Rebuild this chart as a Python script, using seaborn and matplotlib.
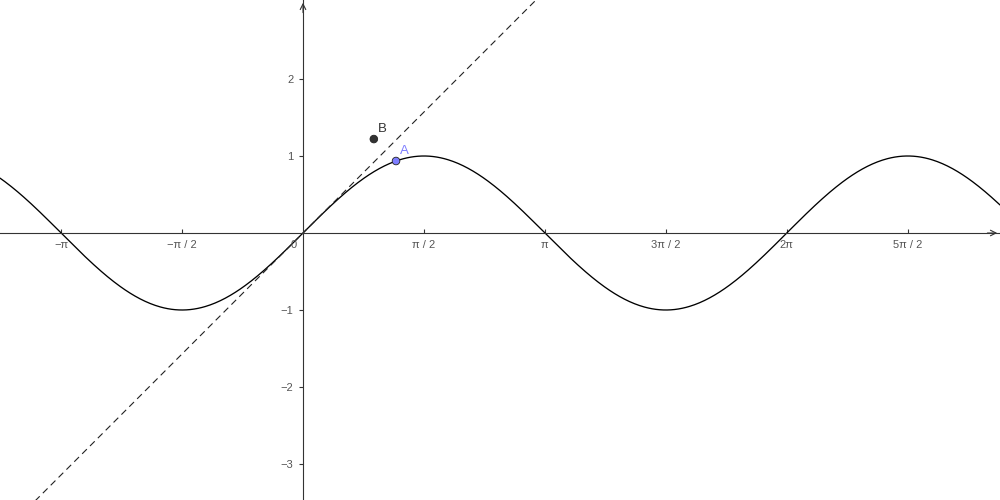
import numpy as np
import pandas as pd
import matplotlib
matplotlib.use('Agg')
import matplotlib.pyplot as plt
import seaborn as sns

# view window (GeoGebra graphics view, 77 px per unit)
x_min, x_max = -303/77, 697/77
y_min, y_max = -267/77, 233/77

# curve f(x)=sin(x) and its tangent at the origin y=x
x_curve = np.linspace(x_min, x_max, 800)
curve = pd.DataFrame({'x': x_curve, 'y': np.sin(x_curve)})
tangent = pd.DataFrame({'x': [x_min, x_max], 'y': [x_min, x_max]})

# points
pt_names = ['A', 'B']
pt_x = [1.208, 0.92]
pt_y = [np.sin(1.208), 1.22]
pt_colors = ['#7d7dff', '#333333']

xtick_vals = [-np.pi, -np.pi/2, np.pi/2, np.pi, 3*np.pi/2, 2*np.pi, 5*np.pi/2]
xtick_labels = ['\u2212\u03c0', '\u2212\u03c0 / 2', '\u03c0 / 2', '\u03c0', '3\u03c0 / 2', '2\u03c0', '5\u03c0 / 2']
ytick_vals = [-3, -2, -1, 1, 2]
ytick_labels = ['\u22123', '\u22122', '\u22121', '1', '2']

sns.set_style('white')
plt.rcParams['font.family'] = ['Liberation Sans', 'DejaVu Sans']

fig = plt.figure(figsize=(10, 5), dpi=100)
ax = fig.add_axes([0, 0, 1, 1])

sns.lineplot(data=curve, x='x', y='y', ax=ax, color='black', lw=0.95, sort=False)
sns.lineplot(data=tangent, x='x', y='y', ax=ax, color='#222222', lw=0.8, dashes=False,
             linestyle=(0, (6, 4)))
pts = pd.DataFrame({'x': pt_x, 'y': pt_y, 'name': pt_names})
sns.scatterplot(data=pts, x='x', y='y', hue='name', palette=pt_colors, ax=ax,
                s=30, edgecolor='#222222', linewidth=0.6, legend=False, zorder=5)
for n, px, py, c in zip(pt_names, pt_x, pt_y, pt_colors):
    ax.annotate(n, (px, py), xytext=(3, 5), textcoords='offset points',
                color=c, fontsize=9.5)

ax.set_xlim(x_min, x_max)
ax.set_ylim(y_min, y_max)

# axes through the origin
for s in ['top', 'right']:
    ax.spines[s].set_visible(False)
ax.spines['left'].set_position(('data', 0))
ax.spines['bottom'].set_position(('data', 0))
for s in ['left', 'bottom']:
    ax.spines[s].set_color('#333333')
    ax.spines[s].set_linewidth(0.8)
ax.annotate('', xy=(x_max, 0), xytext=(x_max - 0.2, 0),
            arrowprops=dict(arrowstyle='->', color='#333333', lw=0.8))
ax.annotate('', xy=(0, y_max), xytext=(0, y_max - 0.2),
            arrowprops=dict(arrowstyle='->', color='#333333', lw=0.8))

ax.set_xticks(xtick_vals)
ax.set_xticklabels(xtick_labels)
ax.set_yticks(ytick_vals)
ax.set_yticklabels(ytick_labels)
ax.tick_params(axis='x', direction='in', length=3, width=0.8, color='#333333',
               labelsize=8, labelcolor='#555555', pad=5, bottom=True)
ax.tick_params(axis='y', direction='out', length=3, width=0.8, color='#333333',
               labelsize=8, labelcolor='#555555', pad=4, left=True)
ax.annotate('0', (0, 0), xytext=(-9, -11), textcoords='offset points',
            fontsize=8, color='#555555')
ax.set_xlabel('')
ax.set_ylabel('')

fig.savefig('out.png', dpi=100)
